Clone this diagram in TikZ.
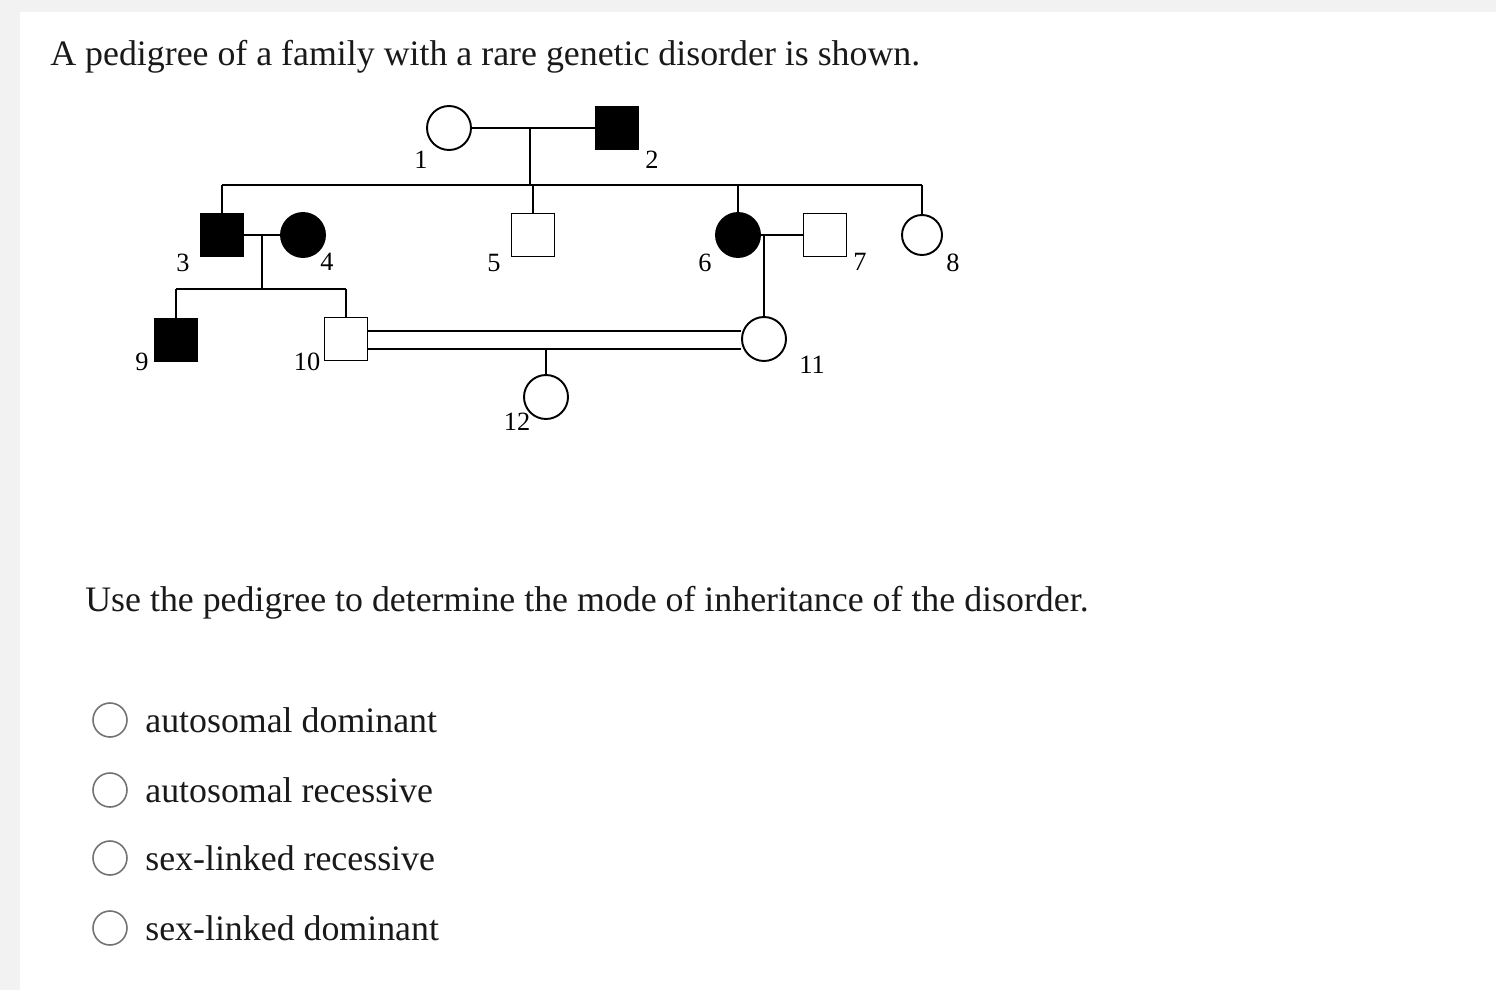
\documentclass[tikz,border=0pt]{standalone}
\usepackage{fontspec}
\setmainfont{Liberation Serif}
\begin{document}
\begin{tikzpicture}[
		x=0.02cm, y=-0.02cm,
		male/.style={rectangle, draw, line width=1.1pt, minimum size=0.86cm, inner sep=0pt},
		female/.style={circle, draw, line width=1.1pt, minimum size=0.88cm, inner sep=0pt},
		ill/.style={fill=black},
		num/.style={font=\fontsize{15}{15}\selectfont, inner sep=0pt},
		txt/.style={font=\fontsize{20.4}{22}\selectfont, anchor=west, inner sep=0pt, text=black!90},
		radio/.style={circle, draw=black!55, line width=0.9pt, minimum size=0.68cm, inner sep=0pt},
		link/.style={line width=1.1pt}
	]
  \fill[black!5] (0,0) rectangle (1496,990);
  \fill[white] (20,12) rectangle (1496,990);
  \node[txt] (title) at (50,57) {A pedigree of a family with a rare genetic disorder is shown.};
  % generation I
  \node (p1) [female] at (449,128) {};
  \node (p2) [male, ill] at (617,128) {};
  \node[num] at (421,160) {1};
  \node[num] at (652,160) {2};
  \coordinate (c12) at (530,128);
  \coordinate (s12) at (530,185);
  % generation II
  \node (p3) [male, ill] at (222,235) {};
  \node (p4) [female, ill] at (303,235) {};
  \node (p5) [male] at (533,235) {};
  \node (p6) [female, ill] at (738,235) {};
  \node (p7) [male] at (825,235) {};
  \node (p8) [female, minimum size=0.8cm] at (922,235) {};
  \node[num] at (183,263) {3};
  \node[num] at (327,262) {4};
  \node[num] at (494,263) {5};
  \node[num] at (705,263) {6};
  \node[num] at (860,262) {7};
  \node[num] at (953,263) {8};
  \coordinate (sL) at (222,185);
  \coordinate (sR) at (922,185);
  % generation III
  \node (p9) [male, ill] at (176,340) {};
  \node (p10) [male] at (346,339) {};
  \node (p11) [female] at (764,339) {};
  \node[num] at (142,362) {9};
  \node[num] at (307,362) {10};
  \node[num] at (812,365) {11};
  % generation IV
  \node (p12) [female] at (546,397) {};
  \node[num] at (517,422) {12};
  \coordinate (c34) at (262,235);
  \coordinate (c67) at (764,235);
  \coordinate (c1011) at (546,349);
  \draw[link] (p1) -- (p2);
  \draw[link] (c12) -- (s12);
  \draw[link] (sL) -- (sR);
  \draw[link] (sL) -- (p3);
  \draw[link] (p5.north) -- (p5.north |- sL);
  \draw[link] (p6.north) -- (p6.north |- sL);
  \draw[link] (p8.north) -- (sR);
  \draw[link] (p3) -- (p4);
  \draw[link] (p6) -- (p7);
  \draw[link] (c34) -- (262,289);
  \draw[link] (176,289) -- (346,289);
  \draw[link] (p9.north) -- (176,289);
  \draw[link] (p10.north) -- (346,289);
  \draw[link] (c67) -- (p11.north);
  \draw[link] ([yshift=0.16cm]p10.east) -- ([yshift=0.16cm]p10.east -| p11.west);
  \draw[link] ([yshift=-0.2cm]p10.east) -- ([yshift=-0.2cm]p10.east -| p11.west);
  \draw[link] (c1011) -- (p12.north);
  % question
  \node[txt] (question) at (85,603) {Use the pedigree to determine the mode of inheritance of the disorder.};
  \foreach \y/\t [count=\i] in {720/autosomal dominant, 790/autosomal recessive, 858/sex-linked recessive, 928/sex-linked dominant} {
    \node (r\i) [radio] at (110,\y) {};
    \node[txt] (o\i) at (145,\y) {\t};
  }
\end{tikzpicture}
\end{document}
